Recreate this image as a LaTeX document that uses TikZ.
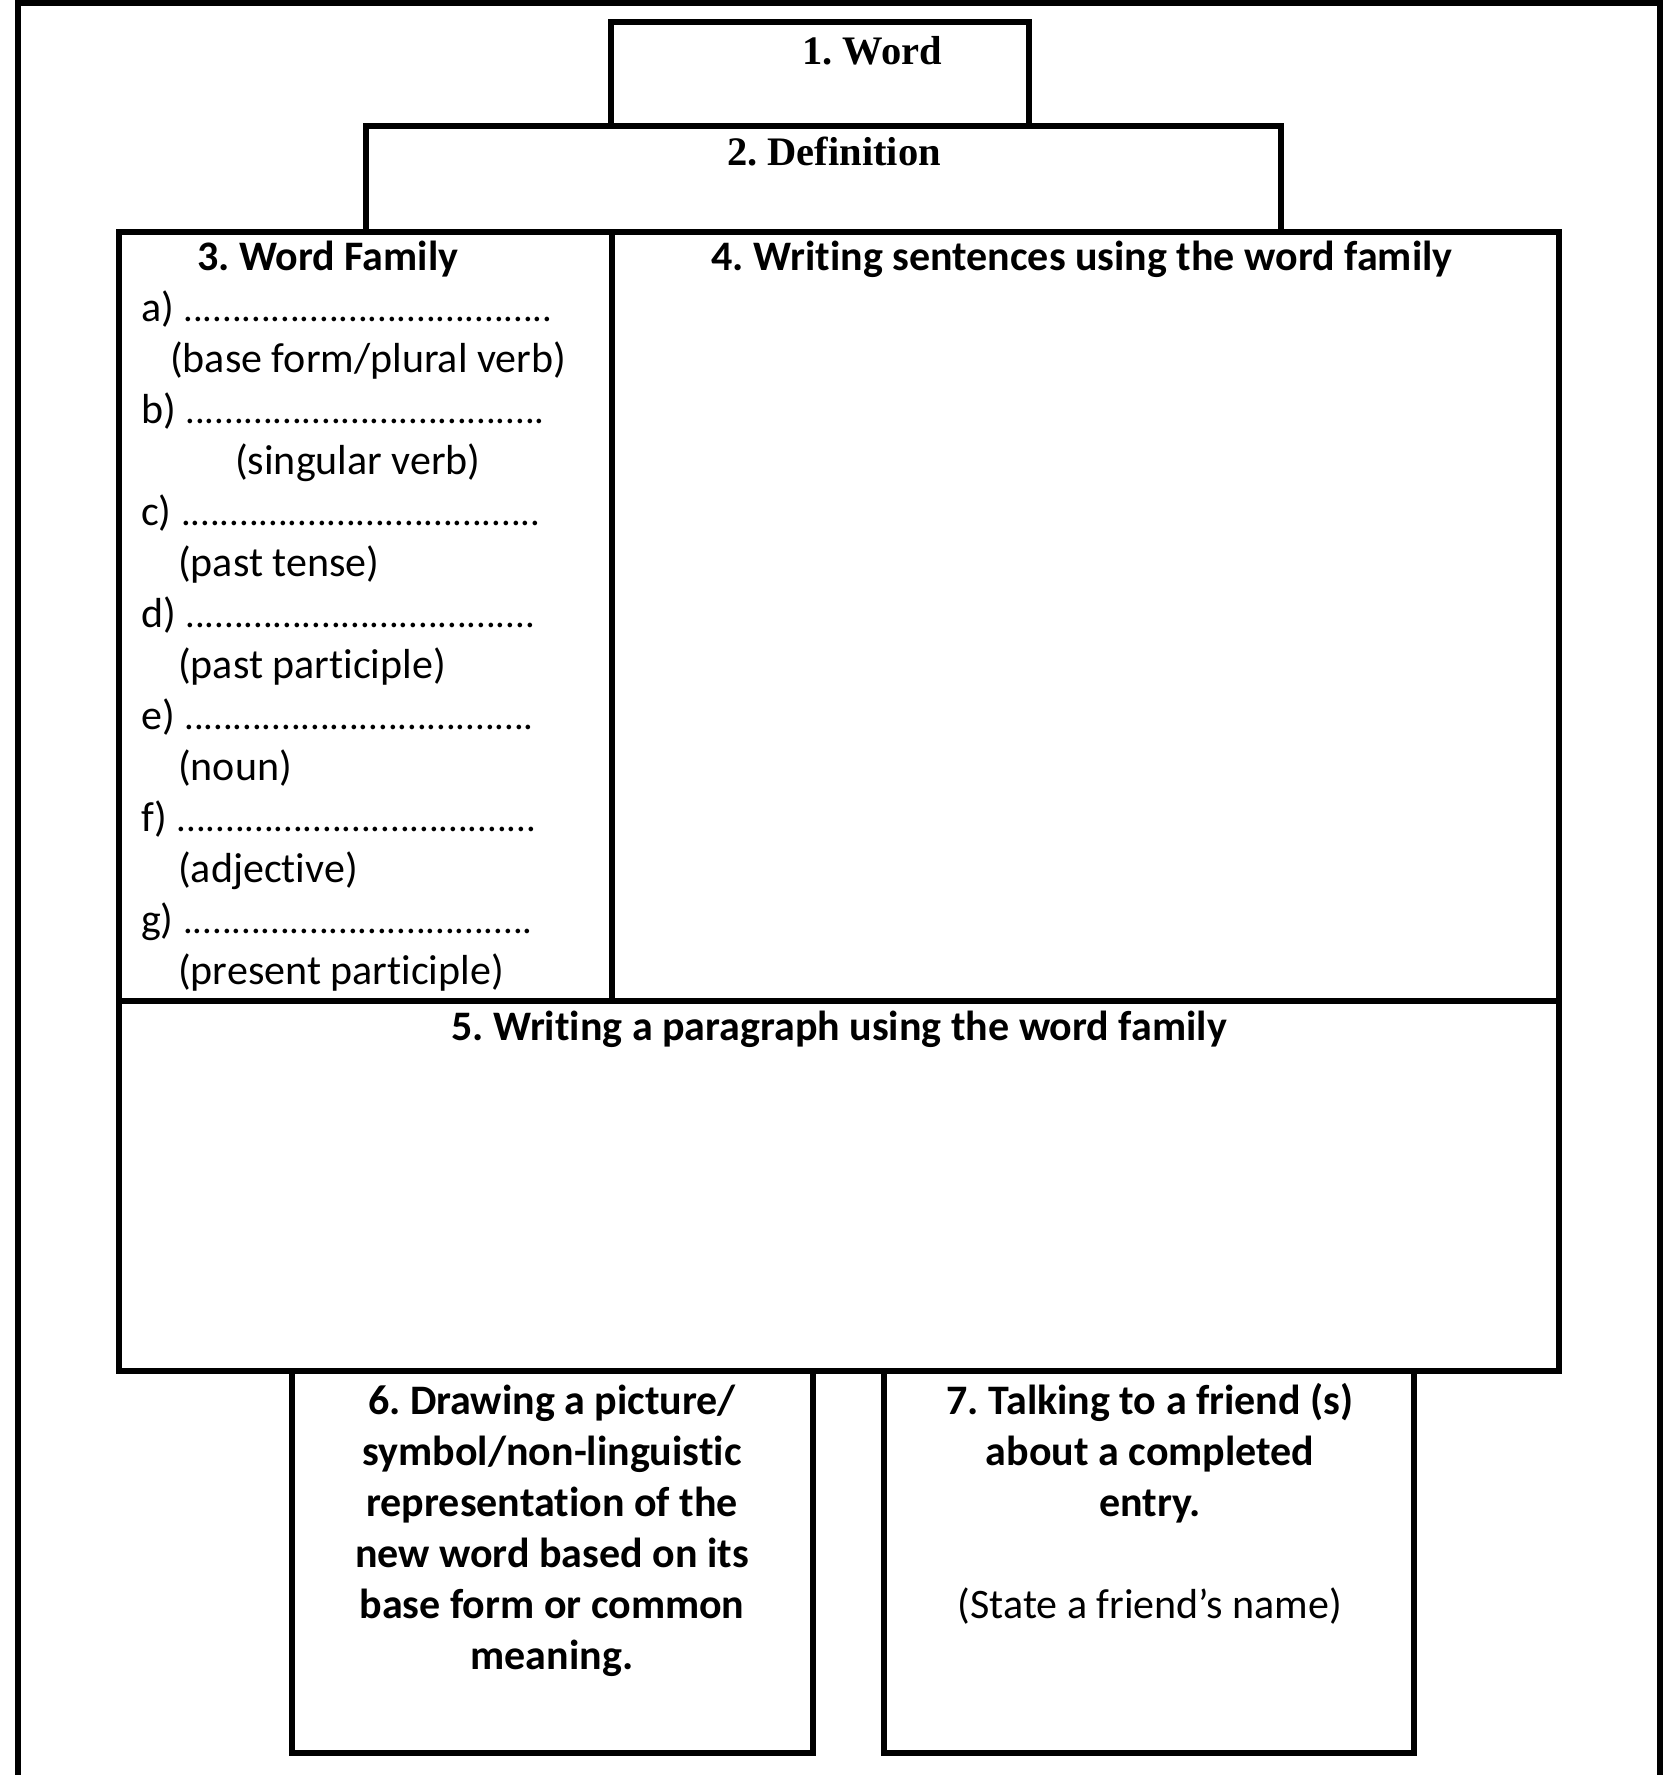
\documentclass[tikz,border=0pt]{standalone}
\usepackage{fontspec}
\setmainfont{Carlito}[Ligatures=NoCommon]
\newfontfamily\tnr{Liberation Serif}
\frenchspacing
\ExplSyntaxOn
\cs_new:Npn \dotrun #1 {{\fontsize{38.5}{51}\selectfont\prg_replicate:nn{#1}{.}}}
\ExplSyntaxOff
\begin{document}
\begin{tikzpicture}[x=1pt,y=-1pt,
  frame/.style={line width=5.5pt, draw=black},
  outerframe/.style={line width=6pt, draw=black},
  txt/.style={inner sep=0pt, anchor=base, font=\fontsize{42}{51}\selectfont},
  txtl/.style={txt, anchor=base west},
  hd/.style={txt, font=\fontsize{42}{51}\selectfont\bfseries},
  hdl/.style={hd, anchor=base west},
  serifhd/.style={txt, font=\tnr\fontsize{40.5}{51}\selectfont\bfseries}]
\useasboundingbox (0,0) rectangle (1667,1775);
\begin{scope}
\clip (0,0) rectangle (1667,1775);
\draw[outerframe] (18,1800) -- (18,3) -- (1660,3) -- (1660,1800);
\end{scope}
% boxes
\draw[frame] (611,22) rectangle (1029,126);
\draw[frame] (366,126) rectangle (1281,232);
\draw[frame] (119,232) rectangle (1559,1371);
\draw[frame] (119,1001) -- (1559,1001);
\draw[frame] (612,232) -- (612,1001);
\draw[frame] (292,1371) rectangle (813,1753);
\draw[frame] (884,1371) rectangle (1414,1753);
% titles
\node[serifhd] (t1) at (872,64) {1. Word};
\node[serifhd] (t2) at (834,165) {2. Definition};
\node[hdl] (t3) at (197,270) {3. Word Family};
\node[hd] (t4) at (1082,270) {4. Writing sentences using the word family};
\node[hd] (t5) at (839,1040) {5. Writing a paragraph using the word family};
% word family list
\node[txtl] (la) at (141,321) {a)~\dotrun{38}};
\node[txtl] (lab) at (170,372) {(base form/plural verb)};
\node[txtl] (lb) at (141,423) {b)~\dotrun{37}};
\node[txtl] (lbb) at (235,474) {(singular verb)};
\node[txtl] (lc) at (141,525) {c)~\dotrun{37}};
\node[txtl] (lcb) at (178,576) {(past tense)};
\node[txtl] (ld) at (141,627) {d)~\dotrun{36}};
\node[txtl] (ldb) at (178,678) {(past participle)};
\node[txtl] (le) at (141,729) {e)~\dotrun{36}};
\node[txtl] (leb) at (178,780) {(noun)};
\node[txtl] (lf) at (141,831) {f)~\dotrun{37}};
\node[txtl] (lfb) at (178,882) {(adjective)};
\node[txtl] (lg) at (141,933) {g)~\dotrun{36}};
\node[txtl] (lgb) at (178,984) {(present participle)};
% box 6
\node[hd] (s1) at (552,1414) {6. Drawing a picture/};
\node[hd] (s2) at (552,1465) {symbol/non-linguistic};
\node[hd] (s3) at (552,1516) {representation of the};
\node[hd] (s4) at (552,1567) {new word based on its};
\node[hd] (s5) at (552,1618) {base form or common};
\node[hd] (s6) at (552,1669) {meaning.};
% box 7
\node[hd] (f1) at (1150,1414) {7. Talking to a friend (s)};
\node[hd] (f2) at (1150,1465) {about a completed};
\node[hd] (f3) at (1150,1516) {entry.};
\node[txt] (f4) at (1150,1618) {(State a friend’s name)};
\end{tikzpicture}
\end{document}
